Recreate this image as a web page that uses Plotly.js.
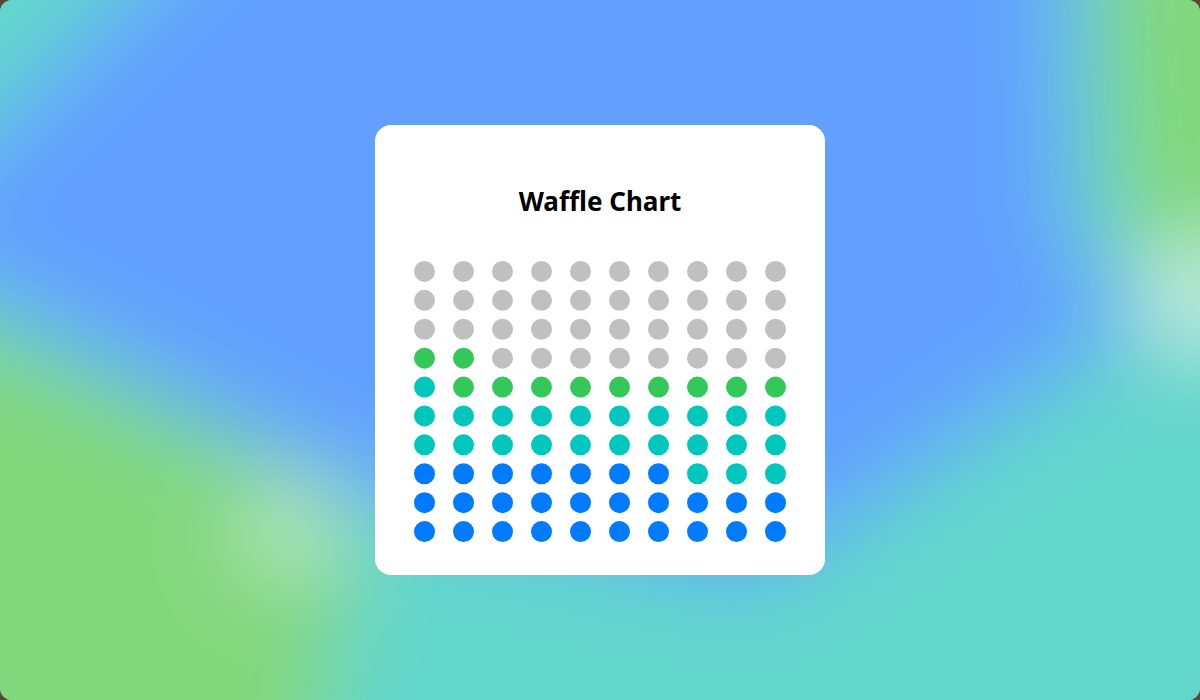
<!DOCTYPE html>
<html>
<head>
<meta charset="utf-8">
<script src="https://cdn.plot.ly/plotly-3.0.1.min.js"></script>
<style>
  html, body { margin:0; padding:0; width:1200px; height:700px; background:#5e4232; overflow:hidden; }
  #frame { position:absolute; left:0; top:0; width:1200px; height:700px; border-radius:12px; overflow:hidden; background:#64d6cc; }
  #bg { position:absolute; left:0; top:0; }
  #card { position:absolute; left:375px; top:125px; width:450px; height:450px; background:#ffffff; border-radius:16px; overflow:hidden; }
  #chart { position:absolute; left:0; top:0; width:450px; height:450px; }
</style>
</head>
<body>
<div id="frame">
  <svg id="bg" width="1200" height="700" viewBox="0 0 1200 700">
    <defs>
      <filter id="blur" x="-20%" y="-20%" width="140%" height="140%">
        <feGaussianBlur stdDeviation="45"/>
      </filter>
    </defs>
    <g filter="url(#blur)">
      <rect x="-200" y="-200" width="1600" height="1100" fill="#64d6cc"/>
      <polygon points="-200,60 120,-200 1060,-200 1070,240 1140,320 760,580 380,500 -200,200" fill="#64a0ff"/>
      <polygon points="-400,-400 520,-400 -400,520" fill="#64d6cc"/>
      <polygon points="-200,250 360,500 300,900 -200,900" fill="#82d77c"/>
      <polygon points="1090,-200 1400,-200 1400,280 1120,240" fill="#82d77c"/>
      <circle cx="290" cy="530" r="50" fill="#c8ecd8" opacity="0.75"/>
      <circle cx="1200" cy="295" r="55" fill="#dcf4e2" opacity="0.9"/>
    </g>
  </svg>
  <div id="card"><div id="chart"></div></div>
</div>
<script>
// Waffle chart data: counts per category (100 cells, filled bottom-left to right, row by row upward)
const categories = ["Blue", "Teal", "Green", "Gray"];
const counts = [27, 24, 11, 38];
const colors = ["#007aff", "#00c7be", "#34c759", "#c0c0c0"];
const gridCols = 10;
const gridRows = 10;

const traces = [];
let idx = 0;
categories.forEach((cat, c) => {
  const xs = [], ys = [];
  for (let k = 0; k < counts[c]; k++) {
    xs.push(idx % gridCols);
    ys.push(Math.floor(idx / gridCols));
    idx++;
  }
  traces.push({
    type: "scatter", mode: "markers", name: cat, x: xs, y: ys,
    marker: { size: 21, color: colors[c], line: { width: 0 } },
    hoverinfo: "name"
  });
});

const layout = {
  width: 450, height: 450,
  paper_bgcolor: "rgba(0,0,0,0)", plot_bgcolor: "rgba(0,0,0,0)",
  margin: { l: 29.5, r: 29.5, t: 131.5, b: 28.5 },
  showlegend: false,
  title: {
    text: "<b>Waffle Chart</b>",
    font: { family: "Noto Sans, Open Sans, sans-serif", size: 26, color: "#000000" },
    x: 0.5, xanchor: "center", xref: "paper",
    y: 1 - 77/450, yanchor: "middle", yref: "container"
  },
  xaxis: { range: [-0.5, gridCols - 0.5], visible: false, fixedrange: true },
  yaxis: { range: [-0.5, gridRows - 0.5], visible: false, fixedrange: true }
};

Plotly.newPlot("chart", traces, layout, { displayModeBar: false, staticPlot: true });
</script>
</body>
</html>
